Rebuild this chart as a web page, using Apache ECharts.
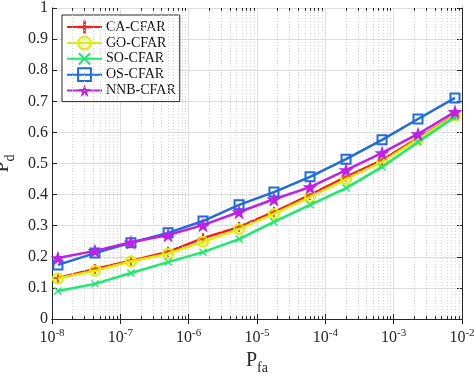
<!DOCTYPE html>
<html>
<head>
<meta charset="utf-8">
<script src="https://cdn.jsdelivr.net/npm/echarts@6/dist/echarts.min.js"></script>
<style>html,body{margin:0;padding:0;background:#fff}#c{width:474px;height:374px}</style>
</head>
<body>
<div id="c"></div>
<script>
// ---- data ----
var pfa = [1.22e-8, 4.25e-8, 1.43e-7, 5.0e-7, 1.62e-6, 5.46e-6, 1.77e-5, 5.97e-5, 2.01e-4, 6.76e-4, 2.27e-3, 7.9e-3];
var caCfar  = [0.132, 0.161, 0.187, 0.216, 0.260, 0.296, 0.344, 0.399, 0.457, 0.511, 0.582, 0.656];
var goCfar  = [0.130, 0.155, 0.185, 0.210, 0.248, 0.289, 0.338, 0.392, 0.450, 0.505, 0.579, 0.654];
var soCfar  = [0.090, 0.113, 0.148, 0.183, 0.215, 0.257, 0.312, 0.367, 0.421, 0.489, 0.569, 0.650];
var osCfar  = [0.174, 0.212, 0.245, 0.277, 0.315, 0.367, 0.408, 0.457, 0.514, 0.576, 0.643, 0.711];
var nnbCfar = [0.196, 0.219, 0.247, 0.270, 0.302, 0.344, 0.385, 0.424, 0.479, 0.534, 0.595, 0.666];
var seriesNames = ['CA-CFAR', 'GO-CFAR', 'SO-CFAR', 'OS-CFAR', 'NNB-CFAR'];
var xMin = 1e-8, xMax = 1e-2;

var FONT = 'Liberation Serif';
var TXT = '#262626';

function pairs(ys) { return pfa.map(function (x, i) { return [x, ys[i]]; }); }

// minor decade positions (2..9 x 10^k)
var minorX = [];
for (var e = -8; e < -2; e++) for (var m = 2; m <= 9; m++) minorX.push(m * Math.pow(10, e));

var gridLines = minorX.map(function (v) { return [{ coord: [v, 0] }, { coord: [v, 1] }]; });
var minorTicksMarks = [];
minorX.forEach(function (v) {
  minorTicksMarks.push([{ coord: [v, 0] }, { coord: [v, 0.009] }]);
  minorTicksMarks.push([{ coord: [v, 1] }, { coord: [v, 0.991] }]);
});

var plus = 'path://M4,0H6V4H10V6H6V10H4V6H0V4H4Z';
var cross = 'path://M1.2,0L5,3.8L8.8,0L10,1.2L6.2,5L10,8.8L8.8,10L5,6.2L1.2,10L0,8.8L3.8,5L0,1.2Z';
var star = 'path://M50,0L61.8,35.4L99,35.4L69.1,57.3L80.4,92.7L50,70.8L19.6,92.7L30.9,57.3L1,35.4L38.2,35.4Z';

var colors = ['#ff1a1a', '#dcef00', '#19eb6c', '#1c6be0', '#c21ee8'];

function lineSeries(idx, data, symbol, size, itemStyle) {
  return {
    name: seriesNames[idx], type: 'line', data: pairs(data),
    symbol: symbol, symbolSize: size,
    lineStyle: { color: colors[idx], width: 2.5 },
    itemStyle: itemStyle, z: 3 + idx,
    emphasis: { disabled: true }, animation: false
  };
}

var series = [
  {
    type: 'line', data: [], silent: true, animation: false, z: 1,
    markLine: {
      silent: true, symbol: 'none', animation: false, label: { show: false },
      lineStyle: { color: '#d6d6d6', type: [1, 2], width: 1 },
      data: gridLines
    }
  },
  {
    type: 'line', data: [], silent: true, animation: false, z: 2,
    markLine: {
      silent: true, symbol: 'none', animation: false, label: { show: false },
      lineStyle: { color: TXT, type: 'solid', width: 1 },
      data: minorTicksMarks
    }
  },
  lineSeries(0, caCfar, plus, 10, { color: colors[0] }),
  lineSeries(1, goCfar, 'circle', 10, { color: 'rgba(220,239,0,0.25)', borderColor: colors[1], borderWidth: 2 }),
  lineSeries(2, soCfar, cross, 8, { color: colors[2] }),
  lineSeries(3, osCfar, 'rect', 9, { color: 'rgba(255,255,255,0)', borderColor: colors[3], borderWidth: 2 }),
  lineSeries(4, nnbCfar, star, 15, { color: colors[4] })
];

var chart = echarts.init(document.getElementById('c'), null, { renderer: 'canvas' });
chart.setOption({
  backgroundColor: '#fff',
  animation: false,
  textStyle: { fontFamily: FONT },
  grid: { left: 52, right: 12, top: 8, bottom: 55, containLabel: false, outerBoundsMode: 'none' },
  legend: {
    data: seriesNames,
    left: 62, top: 15, orient: 'vertical',
    backgroundColor: '#fff', borderColor: TXT, borderWidth: 1,
    padding: [5, 4, 4, 4],
    itemWidth: 35, itemHeight: 16, itemGap: 1.5,
    textStyle: { fontFamily: FONT, fontSize: 14, color: '#111', padding: [0, 0, 0, -1] },
    selectedMode: false
  },
  xAxis: [
    {
      type: 'log', logBase: 10, min: xMin, max: xMax,
      name: '{p|P}{sub|fa}', nameLocation: 'middle', nameGap: 28,
      nameTextStyle: { color: TXT, rich: {
        p: { fontFamily: FONT, fontSize: 20, color: TXT },
        sub: { fontFamily: FONT, fontSize: 14, color: TXT, padding: [14, 0, 0, 0] }
      } },
      axisLine: { show: true, lineStyle: { color: TXT, width: 1 } },
      axisTick: { show: true, inside: true, length: 5, lineStyle: { color: TXT } },
      splitLine: { show: true, lineStyle: { color: '#dedede', width: 1 } },
      axisLabel: {
        margin: 9,
        formatter: function (v) {
          var ex = Math.round(Math.log(v) / Math.LN10);
          return '{b|10}{s|' + ex + '}';
        },
        rich: {
          b: { fontFamily: FONT, fontSize: 16, color: TXT },
          s: { fontFamily: FONT, fontSize: 11, color: TXT, padding: [0, 0, 9, 0] }
        }
      }
    },
    {
      type: 'log', logBase: 10, min: xMin, max: xMax, position: 'top',
      axisLine: { show: true, lineStyle: { color: TXT, width: 1 } },
      axisTick: { show: true, inside: true, length: 5, lineStyle: { color: TXT } },
      axisLabel: { show: false }, splitLine: { show: false }
    }
  ],
  yAxis: [
    {
      type: 'value', min: 0, max: 1, interval: 0.1,
      name: '{p|P}{sub|d}', nameLocation: 'middle', nameGap: 29, nameRotate: 90,
      nameTextStyle: { color: TXT, rich: {
        p: { fontFamily: FONT, fontSize: 20, color: TXT },
        sub: { fontFamily: FONT, fontSize: 14, color: TXT, padding: [14, 0, 0, 0] }
      } },
      axisLine: { show: true, lineStyle: { color: TXT, width: 1 } },
      axisTick: { show: true, inside: true, length: 5, lineStyle: { color: TXT } },
      splitLine: { show: true, lineStyle: { color: '#dedede', width: 1 } },
      axisLabel: { fontFamily: FONT, fontSize: 16, color: TXT, margin: 4 }
    },
    {
      type: 'value', min: 0, max: 1, interval: 0.1, position: 'right',
      axisLine: { show: true, lineStyle: { color: TXT, width: 1 } },
      axisTick: { show: true, inside: true, length: 5, lineStyle: { color: TXT } },
      axisLabel: { show: false }, splitLine: { show: false }
    }
  ],
  series: series
});
</script>
</body>
</html>
